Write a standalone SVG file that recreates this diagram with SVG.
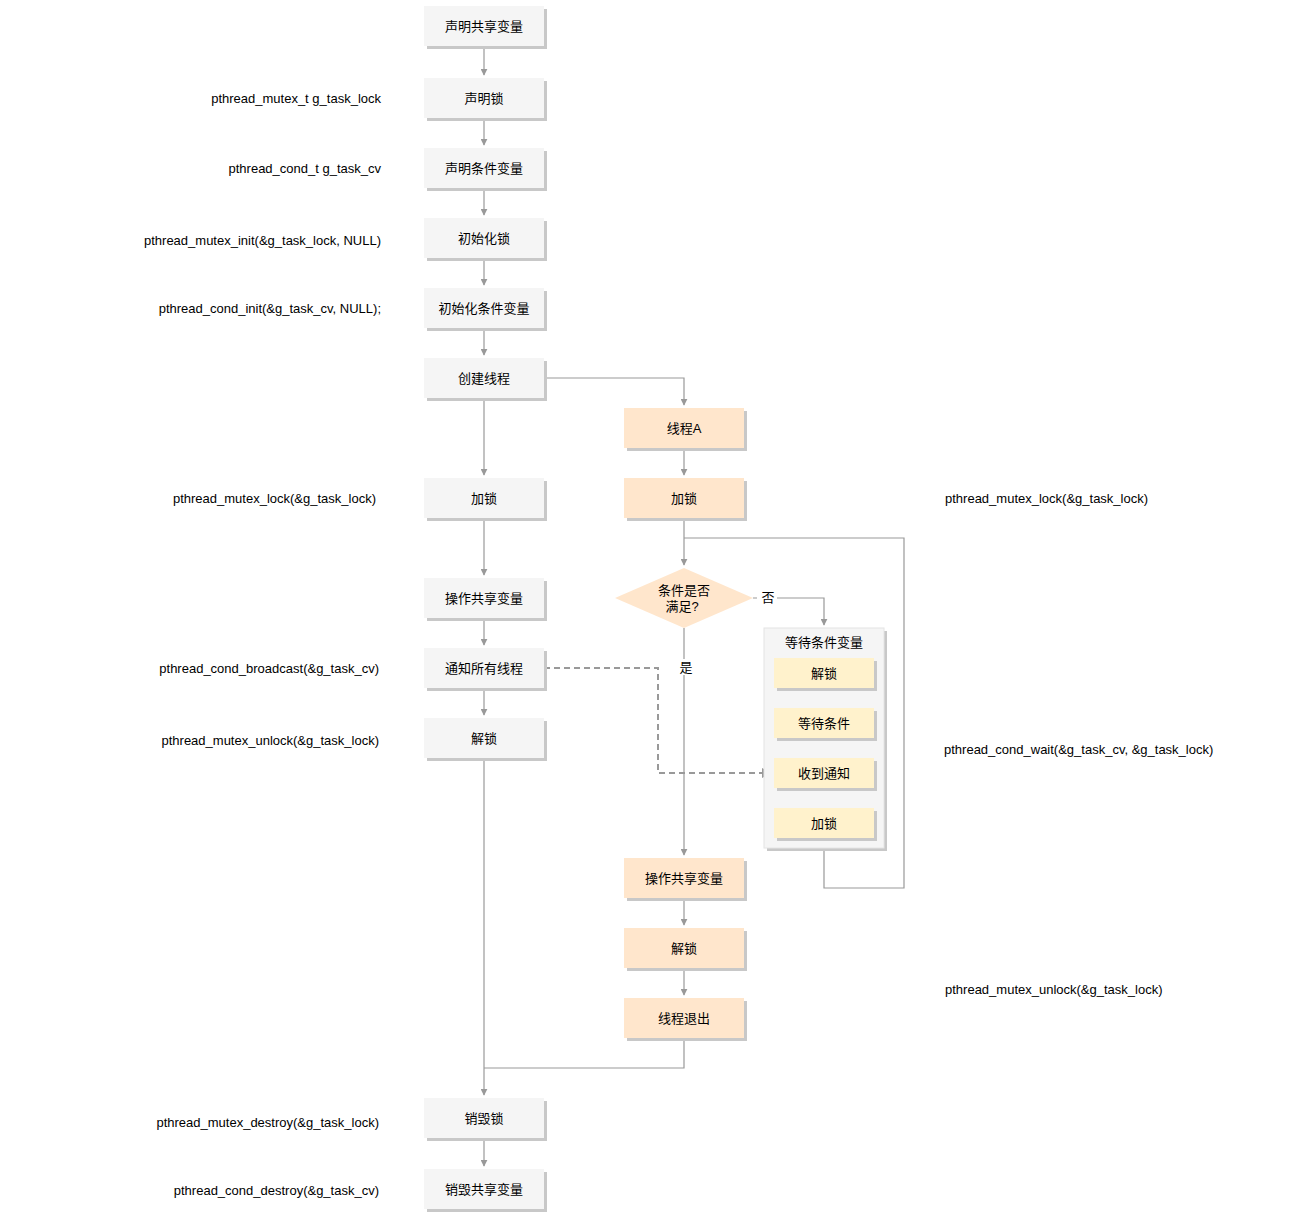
<svg xmlns="http://www.w3.org/2000/svg" width="1290" height="1229" viewBox="0 0 1290 1229">
<style>
text{font-family:"Liberation Sans","Noto Sans CJK SC",sans-serif;font-size:13px;fill:#000}
.c{text-anchor:middle;dominant-baseline:central}
.r{text-anchor:end;dominant-baseline:central}
.l{text-anchor:start;dominant-baseline:central}
.g{fill:#f5f5f5}
.o{fill:#ffe6cc}
.y{fill:#fff2cc}
.sh{fill:#c8c8c8}
.ln{fill:none;stroke:#999;stroke-width:1.2}
.ds{fill:none;stroke:#999;stroke-width:2;stroke-dasharray:6 4}
</style>
<defs>
<marker id="a" viewBox="0 0 10 10" refX="9" refY="5" markerWidth="7" markerHeight="7" orient="auto" markerUnits="userSpaceOnUse"><path d="M0,0L10,5L0,10z" fill="#999"/></marker>
<marker id="b" viewBox="0 0 10 10" refX="9" refY="5" markerWidth="10" markerHeight="10" orient="auto" markerUnits="userSpaceOnUse"><path d="M0,0L10,5L0,10z" fill="#999"/></marker>
</defs>
<g id="connectors">
<path class="ln" d="M484,46V75" marker-end="url(#a)"/>
<path class="ln" d="M484,118V145" marker-end="url(#a)"/>
<path class="ln" d="M484,188V215" marker-end="url(#a)"/>
<path class="ln" d="M484,258V285" marker-end="url(#a)"/>
<path class="ln" d="M484,328V355" marker-end="url(#a)"/>
<path class="ln" d="M484,398V475" marker-end="url(#a)"/>
<path class="ln" d="M484,518V575" marker-end="url(#a)"/>
<path class="ln" d="M484,618V645" marker-end="url(#a)"/>
<path class="ln" d="M484,688V715" marker-end="url(#a)"/>
<path class="ln" d="M484,758V1095" marker-end="url(#a)"/>
<path class="ln" d="M484,1138V1166" marker-end="url(#a)"/>
<path class="ln" d="M544,378H684V405" marker-end="url(#a)"/>
<path class="ln" d="M684,448V475" marker-end="url(#a)"/>
<path class="ln" d="M684,518V565" marker-end="url(#a)"/>
<path class="ln" d="M684,628V855" marker-end="url(#a)"/>
<path class="ln" d="M753,598H824V625" marker-end="url(#a)"/>
<path class="ln" d="M824,688V705" marker-end="url(#a)"/>
<path class="ln" d="M824,738V755" marker-end="url(#a)"/>
<path class="ln" d="M824,788V805" marker-end="url(#a)"/>
<path class="ln" d="M824,848V888H904V538H684"/>
<path class="ln" d="M684,898V925" marker-end="url(#a)"/>
<path class="ln" d="M684,968V995" marker-end="url(#a)"/>
<path class="ln" d="M684,1038V1068H484"/>
<path class="ds" d="M544,668H658V773H771" marker-end="url(#b)"/>
<rect x="757" y="590" width="20" height="16" fill="#fff"/>
<text class="c" x="768" y="597">否</text>
<rect x="676" y="659" width="18" height="16" fill="#fff"/>
<text class="c" x="686" y="667">是</text>
</g>
<g id="n1"><rect class="sh" x="427" y="9" width="120" height="40"/><rect class="g" x="424" y="6" width="120" height="40"/><text class="c" x="484" y="26">声明共享变量</text></g>
<g id="n2"><rect class="sh" x="427" y="81" width="120" height="40"/><rect class="g" x="424" y="78" width="120" height="40"/><text class="c" x="484" y="98">声明锁</text></g>
<g id="n3"><rect class="sh" x="427" y="151" width="120" height="40"/><rect class="g" x="424" y="148" width="120" height="40"/><text class="c" x="484" y="168">声明条件变量</text></g>
<g id="n4"><rect class="sh" x="427" y="221" width="120" height="40"/><rect class="g" x="424" y="218" width="120" height="40"/><text class="c" x="484" y="238">初始化锁</text></g>
<g id="n5"><rect class="sh" x="427" y="291" width="120" height="40"/><rect class="g" x="424" y="288" width="120" height="40"/><text class="c" x="484" y="308">初始化条件变量</text></g>
<g id="n6"><rect class="sh" x="427" y="361" width="120" height="40"/><rect class="g" x="424" y="358" width="120" height="40"/><text class="c" x="484" y="378">创建线程</text></g>
<g id="n7"><rect class="sh" x="427" y="481" width="120" height="40"/><rect class="g" x="424" y="478" width="120" height="40"/><text class="c" x="484" y="498">加锁</text></g>
<g id="n8"><rect class="sh" x="427" y="581" width="120" height="40"/><rect class="g" x="424" y="578" width="120" height="40"/><text class="c" x="484" y="598">操作共享变量</text></g>
<g id="n9"><rect class="sh" x="427" y="651" width="120" height="40"/><rect class="g" x="424" y="648" width="120" height="40"/><text class="c" x="484" y="668">通知所有线程</text></g>
<g id="n10"><rect class="sh" x="427" y="721" width="120" height="40"/><rect class="g" x="424" y="718" width="120" height="40"/><text class="c" x="484" y="738">解锁</text></g>
<g id="n11"><rect class="sh" x="427" y="1101" width="120" height="40"/><rect class="g" x="424" y="1098" width="120" height="40"/><text class="c" x="484" y="1118">销毁锁</text></g>
<g id="n12"><rect class="sh" x="427" y="1172" width="120" height="40"/><rect class="g" x="424" y="1169" width="120" height="40"/><text class="c" x="484" y="1189">销毁共享变量</text></g>
<g id="t1"><rect class="sh" x="627" y="411" width="120" height="40"/><rect class="o" x="624" y="408" width="120" height="40"/><text class="c" x="684" y="428">线程A</text></g>
<g id="t2"><rect class="sh" x="627" y="481" width="120" height="40"/><rect class="o" x="624" y="478" width="120" height="40"/><text class="c" x="684" y="498">加锁</text></g>
<g id="dia"><path d="M684,568L753,598L684,628L615,598z" class="o"/><text class="c" x="684" y="590">条件是否</text><text class="c" x="682" y="606">满足?</text></g>
<g id="wait"><rect class="sh" x="767" y="631" width="120" height="220"/><rect x="764" y="628" width="120" height="220" fill="#f5f5f5" stroke="#e4e4e4"/><text class="c" x="824" y="642">等待条件变量</text>
<rect class="sh" x="777" y="661" width="100" height="30"/><rect class="y" x="774" y="658" width="100" height="30"/><text class="c" x="824" y="673">解锁</text>
<rect class="sh" x="777" y="711" width="100" height="30"/><rect class="y" x="774" y="708" width="100" height="30"/><text class="c" x="824" y="723">等待条件</text>
<rect class="sh" x="777" y="761" width="100" height="30"/><rect class="y" x="774" y="758" width="100" height="30"/><text class="c" x="824" y="773">收到通知</text>
<rect class="sh" x="777" y="811" width="100" height="30"/><rect class="y" x="774" y="808" width="100" height="30"/><text class="c" x="824" y="823">加锁</text></g>
<g id="t3"><rect class="sh" x="627" y="861" width="120" height="40"/><rect class="o" x="624" y="858" width="120" height="40"/><text class="c" x="684" y="878">操作共享变量</text></g>
<g id="t4"><rect class="sh" x="627" y="931" width="120" height="40"/><rect class="o" x="624" y="928" width="120" height="40"/><text class="c" x="684" y="948">解锁</text></g>
<g id="t5"><rect class="sh" x="627" y="1001" width="120" height="40"/><rect class="o" x="624" y="998" width="120" height="40"/><text class="c" x="684" y="1018">线程退出</text></g>
<g id="labels">
<text class="r" x="381" y="98">pthread_mutex_t g_task_lock</text>
<text class="r" x="381" y="168">pthread_cond_t g_task_cv</text>
<text class="r" x="381" y="240">pthread_mutex_init(&amp;g_task_lock, NULL)</text>
<text class="r" x="381" y="308">pthread_cond_init(&amp;g_task_cv, NULL);</text>
<text class="r" x="376" y="498">pthread_mutex_lock(&amp;g_task_lock)</text>
<text class="r" x="379" y="668">pthread_cond_broadcast(&amp;g_task_cv)</text>
<text class="r" x="379" y="740">pthread_mutex_unlock(&amp;g_task_lock)</text>
<text class="r" x="379" y="1122">pthread_mutex_destroy(&amp;g_task_lock)</text>
<text class="r" x="379" y="1190">pthread_cond_destroy(&amp;g_task_cv)</text>
<text class="l" x="945" y="498">pthread_mutex_lock(&amp;g_task_lock)</text>
<text class="l" x="944" y="749">pthread_cond_wait(&amp;g_task_cv, &amp;g_task_lock)</text>
<text class="l" x="945" y="989">pthread_mutex_unlock(&amp;g_task_lock)</text>
</g>
</svg>
